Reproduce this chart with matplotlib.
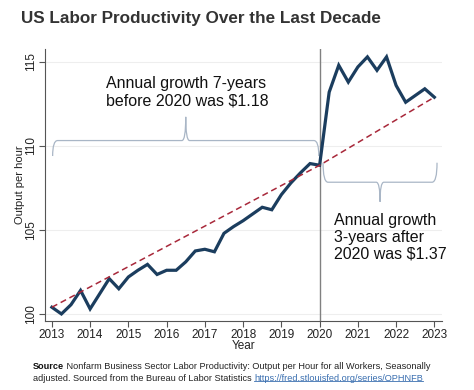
import numpy as np
import pandas as pd
import matplotlib.pyplot as plt
from matplotlib.path import Path
from matplotlib.patches import PathPatch

plt.rcParams['font.family'] = ['Liberation Sans', 'DejaVu Sans']

quarters = pd.period_range('2013Q1', '2023Q1', freq='Q')
output = [100.4, 100.0, 100.55, 101.4,
          100.3, 101.2, 102.1, 101.5,
          102.2, 102.6, 102.95, 102.35,
          102.6, 102.6, 103.1, 103.75,
          103.85, 103.7, 104.8, 105.2,
          105.55, 105.95, 106.35, 106.2,
          107.1, 107.8, 108.4, 108.95,
          108.85, 113.2, 114.8, 113.8,
          114.7, 115.3, 114.5, 115.3,
          113.6, 112.6, 113.0, 113.4,
          112.9]
trend_idx = [0, 28, 40]  # 2013Q1, 2020Q1, 2023Q1
year_ticks = list(range(2013, 2024))
y_ticks = [100, 105, 110, 115]

x = np.array([p.year + (p.quarter - 1) / 4 for p in quarters])
y = np.array(output)

navy = '#1b3d5e'
brace_col = '#a9b6c6'

fig = plt.figure(figsize=(4.74, 3.9), dpi=100)
ax = fig.add_axes([0.0949, 0.1769, 0.8376, 0.6975])

for t in y_ticks:
    ax.axhline(t, color='#eeeeee', lw=0.8, zorder=0)
ax.axvline(2020, color='#808080', lw=1.0, zorder=1)

ax.plot(x, y, color=navy, lw=2.3, solid_joinstyle='miter', zorder=3)
ax.plot(x[trend_idx], y[trend_idx], color='#a8283a', lw=1.1,
        ls=(0, (4, 2.5)), zorder=4)


def brace(x0, x1, yl, yend, ytip, r=0.13, tw=0.1):
    xm = (x0 + x1) / 2
    verts = [(x0, yend), (x0, yl), (x0 + r, yl),
             (xm - tw, yl), (xm, yl), (xm, ytip),
             (xm, yl), (xm + tw, yl),
             (x1 - r, yl), (x1, yl), (x1, yend)]
    codes = [Path.MOVETO, Path.CURVE3, Path.CURVE3,
             Path.LINETO, Path.CURVE3, Path.CURVE3,
             Path.CURVE3, Path.CURVE3,
             Path.LINETO, Path.CURVE3, Path.CURVE3]
    ax.add_patch(PathPatch(Path(verts, codes), fill=False,
                           ec=brace_col, lw=0.9, zorder=2))


brace(2013.02, 2019.98, 110.32, 109.4, 111.73)
brace(2020.09, 2023.07, 107.84, 109.0, 106.68)

ax.text(2014.42, 113.2, 'Annual growth 7-years\nbefore 2020 was $1.18',
        fontsize=11.5, color='#111111', va='center', ha='left',
        linespacing=1.15)
ax.text(2020.37, 104.55, 'Annual growth\n3-years after\n2020 was $1.37',
        fontsize=11.5, color='#111111', va='center', ha='left',
        linespacing=1.15)

ax.set_xlim(2012.82, 2023.2)
ax.set_ylim(99.58, 115.77)
ax.set_xticks(year_ticks)
ax.set_yticks(y_ticks)
ax.set_yticklabels([str(t) for t in y_ticks], rotation=90, va='center')
ax.tick_params(axis='both', labelsize=8.5, colors='#555555',
               labelcolor='#222222', length=4, width=0.8, pad=2)
for s in ['top', 'right']:
    ax.spines[s].set_visible(False)
for s in ['left', 'bottom']:
    ax.spines[s].set_color('#555555')
    ax.spines[s].set_linewidth(0.8)
ax.set_xlabel('Year', fontsize=8.5, color='#222222', labelpad=-1)
ax.set_ylabel('Output per hour', fontsize=8, color='#222222', labelpad=0)

fig.text(0.044, 0.953, 'US Labor Productivity Over the Last Decade',
         fontsize=12.3, fontweight='bold', color='#333333', va='center')

src = fig.text(0.07, 0.055, 'Source', fontsize=6.6, fontweight='bold',
               color='#111111', va='baseline')
fig.canvas.draw()
ax.annotate(' Nonfarm Business Sector Labor Productivity: Output per Hour for all Workers, Seasonally',
            xy=(1, 0), xycoords=src, fontsize=6.6, color='#222222',
            va='bottom', ha='left', annotation_clip=False)
src2 = fig.text(0.07, 0.023, 'adjusted. Sourced from the Bureau of Labor Statistics ',
                fontsize=6.6, color='#222222', va='baseline')
fig.canvas.draw()
ax.annotate('https://fred.stlouisfed.org/series/OPHNFB', xy=(1, 0), xycoords=src2,
            fontsize=6.6, color='#3a6fb0', va='bottom', ha='left',
            annotation_clip=False)
url = ax.texts[-1]
fig.canvas.draw()
bb = url.get_window_extent().transformed(fig.transFigure.inverted())
fig.add_artist(plt.Line2D([bb.x0, bb.x1], [bb.y0 + 0.004, bb.y0 + 0.004],
                          transform=fig.transFigure, color='#3a6fb0', lw=0.6))

fig.savefig('out.png', dpi=100)
